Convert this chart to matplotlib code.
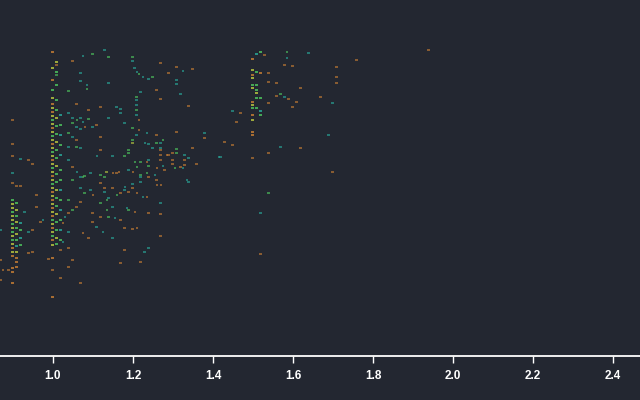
import matplotlib
matplotlib.use("Agg")
import matplotlib.pyplot as plt

# colour code per point: o=orange, y=yellow, g=green, t=teal
palette = {"o": "#bf7a34", "y": "#b2c03e", "g": "#4cbf5c", "t": "#28a396"}

# dense vertical stripes (same x, many y)
col_x = [0.898, 0.908, 0.918, 0.998, 1.008, 1.018, 1.498, 1.508, 1.518]
col_y = [
    [1.56, 1.52, 1.48, 1.44, 1.40, 1.36, 1.32, 1.28, 1.24, 1.20, 1.16, 1.12, 1.08, 1.04, 1.00, 0.88, 0.84, 0.73],
    [1.53, 1.46, 1.40, 1.34, 1.28, 1.22, 1.16, 1.10, 1.04, 0.98, 0.94, 0.89],
    [1.33, 1.26, 1.18, 1.11],
    [3.04, 2.88, 2.76, 2.66, 2.58, 2.52, 2.48, 2.44, 2.40, 2.36, 2.32, 2.28, 2.24, 2.20, 2.16, 2.12, 2.08,
     2.04, 2.00, 1.96, 1.92, 1.88, 1.84, 1.80, 1.76, 1.72, 1.68, 1.64, 1.60, 1.56, 1.52, 1.48, 1.44, 1.40,
     1.36, 1.32, 1.28, 1.24, 1.20, 1.16, 1.11, 0.98, 0.59],
    [2.94, 2.84, 2.71, 2.56, 2.46, 2.38, 2.30, 2.22, 2.14, 2.06, 1.98, 1.90, 1.82, 1.74, 1.66, 1.58, 1.50,
     1.42, 1.34, 1.26, 1.18, 1.12],
    [2.41, 2.31, 2.21, 2.11, 2.01, 1.86, 1.76, 1.66, 1.56, 1.46, 1.36, 1.26, 1.16],
    [2.97, 2.86, 2.81, 2.78, 2.71, 2.68, 2.54, 2.51, 2.48, 2.41, 2.36, 2.24, 2.21],
    [3.02, 2.84, 2.71, 2.66, 2.63, 2.58, 2.48],
    [3.04, 2.83, 2.58, 2.45, 2.41],
]
col_c = [
    "gyygyygygygyoyoooo",
    "gygygygtyooo",
    "tgtg",
    "oyogyoyoygyoygyoygyoygyoygyoyoyoyogyoygoyoo",
    "yggggyggyggyggyggyggyg",
    "tgtgtggtgtgtg",
    "oyoygyoygoyoo",
    "tgggygg",
    "gogtg",
]

# scattered points
scat_x = [
    1.048, 1.075, 1.098, 1.128, 1.138, 1.198, 1.198, 1.268, 1.308, 1.325,
    1.348, 1.203, 1.210, 1.215, 1.225, 1.238, 1.248, 1.288, 1.308, 1.308,
    1.318, 1.068, 1.068, 1.085, 1.085, 1.138, 1.038, 1.008, 1.008, 1.258,
    1.268, 1.338, 1.218, 1.208, 1.208, 1.208, 1.208, 1.208, 1.215, 1.198,
    1.215, 1.198, 1.198, 1.118, 1.158, 1.168, 1.168, 1.058, 1.088, 1.138,
    1.178, 1.038, 1.048, 1.060, 1.068, 1.075, 1.088, 1.048, 1.058, 1.068,
    1.080, 1.098, 1.108, 1.038, 1.048, 1.058, 1.118, 1.038, 1.058, 1.068,
    1.110, 1.118, 1.148, 1.178, 1.188, 1.188, 1.235, 1.258, 1.238, 1.248,
    1.268, 1.275, 1.268, 1.285, 1.298, 1.308, 1.308, 1.308, 1.328, 1.328,
    1.328, 1.348, 1.338, 1.358, 1.378, 1.378, 1.415, 1.218, 1.235, 1.238,
    1.260, 1.275, 1.298, 1.305, 1.318, 1.200, 1.210, 1.188, 1.165, 1.150,
    1.133, 1.118, 1.093, 1.075, 1.060, 1.048, 1.038, 0.918, 0.938, 0.948,
    0.898, 0.898, 0.898, 0.898, 0.898, 0.908, 0.918, 1.048, 1.068, 1.078,
    1.068, 1.078, 1.068, 1.058, 1.048, 1.038, 1.038, 1.030, 1.025, 1.038,
    1.025, 1.018, 1.038, 1.048, 1.038, 1.018, 1.068, 0.988, 0.998, 1.093,
    1.100, 1.118, 1.118, 1.128, 1.135, 1.135, 1.098, 1.098, 1.108, 1.118,
    1.148, 1.160, 1.168, 1.180, 1.188, 1.198, 1.210, 1.218, 1.235, 1.235,
    1.255, 1.260, 1.270, 1.268, 1.268, 1.238, 1.205, 1.185, 1.178, 1.198,
    1.210, 1.155, 1.168, 1.125, 1.148, 1.075, 1.088, 1.268, 1.238, 1.228,
    1.178, 1.168, 1.218, 1.338, 0.868, 0.868, 0.875, 0.888, 0.868, 0.938,
    0.948, 0.948, 0.938, 0.928, 0.958, 0.968, 0.975, 0.958, 1.208, 1.230,
    1.258, 1.268, 1.288, 1.268, 1.238, 1.205, 1.268, 1.298, 1.325, 1.278,
    1.218, 1.218, 1.238, 1.258, 1.335, 1.128, 1.128, 1.158, 1.178, 1.198,
    1.225, 1.138, 1.148, 1.188, 1.138, 1.528, 1.585, 1.585, 1.578, 1.598,
    1.638, 1.758, 1.938, 1.708, 1.708, 1.708, 1.538, 1.538, 1.558, 1.558,
    1.568, 1.578, 1.588, 1.608, 1.598, 1.618, 1.668, 1.698, 1.538, 1.448,
    1.468, 1.458, 1.428, 1.448, 1.418, 1.498, 1.538, 1.568, 1.618, 1.688,
    1.698, 1.538, 1.518, 1.518,
]
scat_y = [
    2.95, 3.00, 3.02, 3.06, 2.99, 2.99, 2.95, 2.93, 2.89, 2.85,
    2.87, 2.88, 2.84, 2.82, 2.79, 2.77, 2.79, 2.83, 2.76, 2.72,
    2.62, 2.83, 2.75, 2.71, 2.67, 2.73, 2.65, 2.81, 2.91, 2.66,
    2.57, 2.50, 2.64, 2.59, 2.56, 2.51, 2.46, 2.41, 2.36, 2.28,
    2.26, 2.16, 2.13, 2.49, 2.49, 2.47, 2.43, 2.52, 2.46, 2.38,
    2.33, 2.43, 2.38, 2.36, 2.38, 2.34, 2.37, 2.33, 2.29, 2.27,
    2.29, 2.29, 2.31, 2.23, 2.19, 2.16, 2.19, 2.09, 2.09, 2.08,
    2.00, 2.06, 2.00, 2.00, 2.06, 2.03, 2.23, 2.21, 2.12, 2.08,
    2.13, 2.16, 2.06, 2.01, 2.03, 2.07, 2.03, 2.24, 2.01, 1.96,
    1.91, 2.08, 1.98, 1.92, 2.23, 2.18, 1.99, 1.94, 1.94, 1.90,
    1.88, 1.90, 1.92, 1.88, 1.89, 1.84, 1.89, 1.86, 1.84, 1.83,
    1.84, 1.81, 1.83, 1.79, 1.84, 1.89, 1.96, 1.97, 1.96, 1.92,
    2.36, 2.12, 2.00, 1.83, 1.73, 1.70, 1.70, 1.76, 1.79, 1.80,
    1.68, 1.63, 1.54, 1.49, 1.46, 1.56, 1.43, 1.39, 1.33, 1.24,
    1.14, 1.06, 1.08, 0.96, 0.89, 0.78, 0.73, 0.97, 0.86, 1.66,
    1.61, 1.73, 1.53, 1.64, 1.56, 1.46, 1.43, 1.34, 1.29, 1.39,
    1.68, 1.61, 1.63, 1.69, 1.64, 1.72, 1.63, 1.79, 1.59, 1.83,
    1.81, 1.71, 1.71, 1.53, 1.42, 1.43, 1.44, 1.48, 1.28, 1.27,
    1.28, 1.38, 1.36, 1.24, 1.18, 1.23, 1.18, 1.20, 1.08, 1.04,
    1.06, 0.93, 0.94, 1.74, 1.26, 0.96, 0.86, 0.86, 0.76, 1.03,
    1.04, 1.26, 1.24, 1.44, 1.61, 1.34, 1.36, 1.49, 2.21, 2.13,
    2.13, 2.08, 2.01, 2.01, 1.96, 1.94, 1.96, 1.96, 1.88, 1.86,
    1.81, 1.74, 1.79, 1.76, 1.76, 1.79, 1.68, 1.83, 1.66, 1.68,
    1.59, 1.58, 1.49, 1.46, 1.39, 3.01, 3.04, 2.98, 2.91, 2.90,
    3.03, 2.96, 3.06, 2.89, 2.79, 2.73, 2.83, 2.74, 2.73, 2.60,
    2.62, 2.59, 2.57, 2.54, 2.49, 2.68, 2.59, 2.53, 2.53, 2.45,
    2.43, 2.34, 2.14, 2.11, 1.99, 1.98, 2.03, 2.09, 2.08, 2.21,
    1.84, 1.63, 1.43, 1.02,
]
scat_c = (
    "otgtggtoot" "ottgttgott" "ttttgtggoo" "ootgttgtog"
    "ogyotttoot" "tttgttggtt" "otogtootgt" "totgggtott"
    "tgoooggoto" "ootototgog" "otogoogtoo" "ygtgtottoo"
    "oootooogtg" "tgooggotot" "toooooooot" "oogtggooto"
    "ogotototog" "tootoootoo" "otottooott" "ooottooooo"
    "oottootott" "gtootgooto" "gtootgooto" "tttggogtoo"
    "tooooooooo" "gtoooootot" "ooootootot" "ogto"
)

fig = plt.figure(figsize=(6.4, 4.0), dpi=100)
fig.patch.set_facecolor("#232731")
ax = fig.add_axes([0, 0.11, 1, 0.89])
ax.set_facecolor("#232731")

for x, ys, cs in zip(col_x, col_y, col_c):
    ax.scatter([x] * len(ys), ys, c=[palette[k] for k in cs], marker="s", s=4.5,
               linewidths=0, alpha=0.85)

ax.scatter(scat_x, scat_y, c=[palette[k] for k in scat_c], marker="s", s=4.5,
           linewidths=0, alpha=0.65)

ax.set_xlim(0.8675, 2.4675)
ax.set_ylim(0, 3.56)
ax.set_xticks([1.0, 1.2, 1.4, 1.6, 1.8, 2.0, 2.2, 2.4])
ax.set_xticklabels(["1.0", "1.2", "1.4", "1.6", "1.8", "2.0", "2.2", "2.4"])
ax.set_yticks([])

for s in ["top", "left", "right"]:
    ax.spines[s].set_visible(False)
ax.spines["bottom"].set_color("white")
ax.spines["bottom"].set_linewidth(1.3)
ax.tick_params(axis="x", colors="white", length=5, width=1, pad=5)
for label in ax.get_xticklabels():
    label.set_fontsize(8.5)
    label.set_fontweight("bold")
    label.set_family("Liberation Sans")

plt.savefig("out.png", dpi=100, facecolor=fig.get_facecolor())
